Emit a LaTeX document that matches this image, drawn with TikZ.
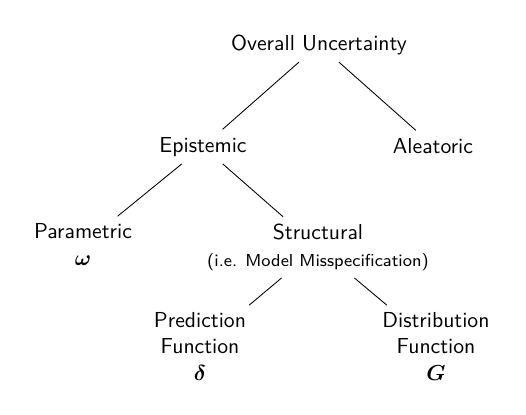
\documentclass[tikz,border=0pt]{standalone}
\usepackage{amsmath}
\usepackage{bm}

\begin{document}
\begin{tikzpicture}[x=0.461pt,y=-0.461pt,
  every node/.style={font=\sffamily, align=center, anchor=base}]
\useasboundingbox (0,0) rectangle (526,415);

\node (overall) at (319,50) {Overall Uncertainty};
\node (epistemic) at (203,152) {Epistemic};
\node (aleatoric) at (433,153) {Aleatoric};
\node (parametric) at (83,265) {Parametric\\$\bm{\omega}$};
\node (structural) at (318,266) {Structural\\{\footnotesize (i.e. Model Misspecification)}};
\node (prediction) at (200,380) {Prediction\\Function\\$\bm{\delta}$};
\node (distribution) at (436,380) {Distribution\\Function\\$\bm{G}$};

\draw (overall) -- (epistemic);
\draw (overall) -- (aleatoric);
\draw (epistemic) -- (parametric);
\draw (epistemic) -- (structural);
\draw (structural) -- (prediction);
\draw (structural) -- (distribution);
\end{tikzpicture}
\end{document}
